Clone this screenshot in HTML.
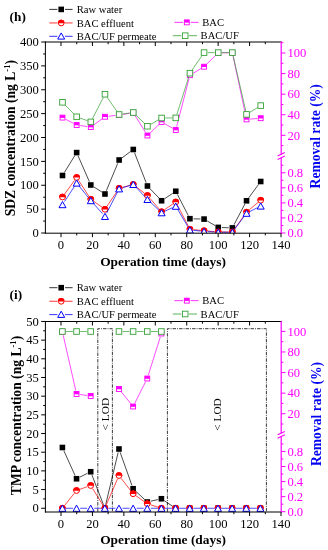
<!DOCTYPE html>
<html><head><meta charset="utf-8"><title>chart</title>
<style>html,body{margin:0;padding:0;background:#fff}svg{display:block}</style></head>
<body>
<svg width="328" height="550" viewBox="0 0 328 550">
<rect width="328" height="550" fill="#fff"/>
<clipPath id="cliph"><rect x="45.4" y="42.0" width="235.79999999999998" height="191.2"/></clipPath>
<g clip-path="url(#cliph)">
<line x1="64.39" y1="172.44" x2="74.76" y2="155.66" stroke="#000" stroke-width="0.7" />
<line x1="78.10" y1="155.90" x2="89.37" y2="181.70" stroke="#000" stroke-width="0.7" />
<line x1="93.85" y1="186.93" x2="101.93" y2="192.07" stroke="#000" stroke-width="0.7" />
<line x1="106.35" y1="190.68" x2="117.74" y2="163.32" stroke="#000" stroke-width="0.7" />
<line x1="122.02" y1="157.86" x2="130.39" y2="151.64" stroke="#000" stroke-width="0.7" />
<line x1="134.59" y1="152.86" x2="146.14" y2="182.64" stroke="#000" stroke-width="0.7" />
<line x1="149.93" y1="188.60" x2="159.11" y2="198.15" stroke="#000" stroke-width="0.7" />
<line x1="164.59" y1="198.74" x2="172.77" y2="193.26" stroke="#000" stroke-width="0.7" />
<line x1="177.41" y1="194.45" x2="188.26" y2="215.50" stroke="#000" stroke-width="0.7" />
<line x1="193.51" y1="218.80" x2="200.47" y2="219.00" stroke="#000" stroke-width="0.7" />
<line x1="207.18" y1="220.92" x2="215.12" y2="225.58" stroke="#000" stroke-width="0.7" />
<line x1="221.82" y1="227.53" x2="228.79" y2="227.77" stroke="#000" stroke-width="0.7" />
<line x1="234.05" y1="224.71" x2="244.87" y2="203.99" stroke="#000" stroke-width="0.7" />
<line x1="248.67" y1="197.90" x2="258.57" y2="184.40" stroke="#000" stroke-width="0.7" />
<rect x="59.70" y="172.70" width="5.6" height="5.6" fill="#000"/>
<rect x="73.86" y="149.80" width="5.6" height="5.6" fill="#000"/>
<rect x="88.01" y="182.20" width="5.6" height="5.6" fill="#000"/>
<rect x="102.17" y="191.20" width="5.6" height="5.6" fill="#000"/>
<rect x="116.33" y="157.20" width="5.6" height="5.6" fill="#000"/>
<rect x="130.48" y="146.70" width="5.6" height="5.6" fill="#000"/>
<rect x="144.64" y="183.20" width="5.6" height="5.6" fill="#000"/>
<rect x="158.80" y="197.95" width="5.6" height="5.6" fill="#000"/>
<rect x="172.96" y="188.45" width="5.6" height="5.6" fill="#000"/>
<rect x="187.11" y="215.90" width="5.6" height="5.6" fill="#000"/>
<rect x="201.27" y="216.30" width="5.6" height="5.6" fill="#000"/>
<rect x="215.43" y="224.60" width="5.6" height="5.6" fill="#000"/>
<rect x="229.58" y="225.10" width="5.6" height="5.6" fill="#000"/>
<rect x="243.74" y="198.00" width="5.6" height="5.6" fill="#000"/>
<rect x="257.90" y="178.70" width="5.6" height="5.6" fill="#000"/>
<line x1="64.61" y1="194.08" x2="74.55" y2="180.32" stroke="#ff0000" stroke-width="0.7" />
<line x1="78.61" y1="180.42" x2="88.86" y2="196.23" stroke="#ff0000" stroke-width="0.7" />
<line x1="93.75" y1="201.33" x2="102.03" y2="207.17" stroke="#ff0000" stroke-width="0.7" />
<line x1="106.99" y1="206.27" x2="117.11" y2="191.28" stroke="#ff0000" stroke-width="0.7" />
<line x1="122.60" y1="187.37" x2="129.81" y2="185.43" stroke="#ff0000" stroke-width="0.7" />
<line x1="136.13" y1="186.71" x2="144.60" y2="193.29" stroke="#ff0000" stroke-width="0.7" />
<line x1="149.81" y1="198.21" x2="159.23" y2="209.04" stroke="#ff0000" stroke-width="0.7" />
<line x1="164.56" y1="209.71" x2="172.79" y2="204.04" stroke="#ff0000" stroke-width="0.7" />
<line x1="177.41" y1="205.20" x2="188.26" y2="226.10" stroke="#ff0000" stroke-width="0.7" />
<line x1="193.50" y1="229.65" x2="200.49" y2="230.35" stroke="#ff0000" stroke-width="0.7" />
<line x1="207.65" y1="231.03" x2="214.64" y2="231.67" stroke="#ff0000" stroke-width="0.7" />
<line x1="221.83" y1="232.00" x2="228.78" y2="232.00" stroke="#ff0000" stroke-width="0.7" />
<line x1="234.47" y1="229.07" x2="244.45" y2="215.03" stroke="#ff0000" stroke-width="0.7" />
<line x1="249.30" y1="209.78" x2="257.94" y2="202.52" stroke="#ff0000" stroke-width="0.7" />
<circle cx="62.50" cy="197.00" r="2.9" fill="#fff" stroke="#ff0000" stroke-width="1.0"/>
<path d="M59.10 197.20 A3.4 3.4 0 0 1 65.90 197.20 Z" fill="#ff0000"/>
<circle cx="76.66" cy="177.40" r="2.9" fill="#fff" stroke="#ff0000" stroke-width="1.0"/>
<path d="M73.26 177.60 A3.4 3.4 0 0 1 80.06 177.60 Z" fill="#ff0000"/>
<circle cx="90.81" cy="199.25" r="2.9" fill="#fff" stroke="#ff0000" stroke-width="1.0"/>
<path d="M87.41 199.45 A3.4 3.4 0 0 1 94.21 199.45 Z" fill="#ff0000"/>
<circle cx="104.97" cy="209.25" r="2.9" fill="#fff" stroke="#ff0000" stroke-width="1.0"/>
<path d="M101.57 209.45 A3.4 3.4 0 0 1 108.37 209.45 Z" fill="#ff0000"/>
<circle cx="119.13" cy="188.30" r="2.9" fill="#fff" stroke="#ff0000" stroke-width="1.0"/>
<path d="M115.73 188.50 A3.4 3.4 0 0 1 122.53 188.50 Z" fill="#ff0000"/>
<circle cx="133.28" cy="184.50" r="2.9" fill="#fff" stroke="#ff0000" stroke-width="1.0"/>
<path d="M129.88 184.70 A3.4 3.4 0 0 1 136.69 184.70 Z" fill="#ff0000"/>
<circle cx="147.44" cy="195.50" r="2.9" fill="#fff" stroke="#ff0000" stroke-width="1.0"/>
<path d="M144.04 195.70 A3.4 3.4 0 0 1 150.84 195.70 Z" fill="#ff0000"/>
<circle cx="161.60" cy="211.75" r="2.9" fill="#fff" stroke="#ff0000" stroke-width="1.0"/>
<path d="M158.20 211.95 A3.4 3.4 0 0 1 165.00 211.95 Z" fill="#ff0000"/>
<circle cx="175.76" cy="202.00" r="2.9" fill="#fff" stroke="#ff0000" stroke-width="1.0"/>
<path d="M172.36 202.20 A3.4 3.4 0 0 1 179.16 202.20 Z" fill="#ff0000"/>
<circle cx="189.91" cy="229.30" r="2.9" fill="#fff" stroke="#ff0000" stroke-width="1.0"/>
<path d="M186.51 229.50 A3.4 3.4 0 0 1 193.31 229.50 Z" fill="#ff0000"/>
<circle cx="204.07" cy="230.70" r="2.9" fill="#fff" stroke="#ff0000" stroke-width="1.0"/>
<path d="M200.67 230.90 A3.4 3.4 0 0 1 207.47 230.90 Z" fill="#ff0000"/>
<circle cx="218.23" cy="232.00" r="2.9" fill="#fff" stroke="#ff0000" stroke-width="1.0"/>
<path d="M214.83 232.20 A3.4 3.4 0 0 1 221.63 232.20 Z" fill="#ff0000"/>
<circle cx="232.38" cy="232.00" r="2.9" fill="#fff" stroke="#ff0000" stroke-width="1.0"/>
<path d="M228.98 232.20 A3.4 3.4 0 0 1 235.78 232.20 Z" fill="#ff0000"/>
<circle cx="246.54" cy="212.10" r="2.9" fill="#fff" stroke="#ff0000" stroke-width="1.0"/>
<path d="M243.14 212.30 A3.4 3.4 0 0 1 249.94 212.30 Z" fill="#ff0000"/>
<circle cx="260.70" cy="200.20" r="2.9" fill="#fff" stroke="#ff0000" stroke-width="1.0"/>
<path d="M257.30 200.40 A3.4 3.4 0 0 1 264.10 200.40 Z" fill="#ff0000"/>
<line x1="64.47" y1="201.59" x2="74.68" y2="186.01" stroke="#0000ff" stroke-width="0.7" />
<line x1="78.91" y1="185.81" x2="88.56" y2="197.79" stroke="#0000ff" stroke-width="0.7" />
<line x1="93.22" y1="203.28" x2="102.57" y2="213.72" stroke="#0000ff" stroke-width="0.7" />
<line x1="106.61" y1="213.20" x2="117.48" y2="192.00" stroke="#0000ff" stroke-width="0.7" />
<line x1="122.57" y1="187.73" x2="129.85" y2="185.47" stroke="#0000ff" stroke-width="0.7" />
<line x1="135.76" y1="187.02" x2="144.97" y2="196.78" stroke="#0000ff" stroke-width="0.7" />
<line x1="150.07" y1="201.86" x2="158.98" y2="210.24" stroke="#0000ff" stroke-width="0.7" />
<line x1="164.87" y1="211.20" x2="172.48" y2="207.70" stroke="#0000ff" stroke-width="0.7" />
<line x1="177.60" y1="209.29" x2="188.07" y2="226.91" stroke="#0000ff" stroke-width="0.7" />
<line x1="193.50" y1="230.35" x2="200.49" y2="231.05" stroke="#0000ff" stroke-width="0.7" />
<line x1="207.66" y1="231.60" x2="214.63" y2="232.00" stroke="#0000ff" stroke-width="0.7" />
<line x1="221.83" y1="232.20" x2="228.78" y2="232.20" stroke="#0000ff" stroke-width="0.7" />
<line x1="234.53" y1="229.31" x2="244.39" y2="216.09" stroke="#0000ff" stroke-width="0.7" />
<line x1="249.75" y1="211.57" x2="257.49" y2="207.63" stroke="#0000ff" stroke-width="0.7" />
<path d="M62.50 201.50 L66.00 207.70 L59.00 207.70 Z" fill="#fff" stroke="#0000ff" stroke-width="1.0" stroke-linejoin="miter"/>
<path d="M76.66 179.90 L80.16 186.10 L73.16 186.10 Z" fill="#fff" stroke="#0000ff" stroke-width="1.0" stroke-linejoin="miter"/>
<path d="M90.81 197.50 L94.31 203.70 L87.31 203.70 Z" fill="#fff" stroke="#0000ff" stroke-width="1.0" stroke-linejoin="miter"/>
<path d="M104.97 213.30 L108.47 219.50 L101.47 219.50 Z" fill="#fff" stroke="#0000ff" stroke-width="1.0" stroke-linejoin="miter"/>
<path d="M119.13 185.70 L122.63 191.90 L115.63 191.90 Z" fill="#fff" stroke="#0000ff" stroke-width="1.0" stroke-linejoin="miter"/>
<path d="M133.28 181.30 L136.78 187.50 L129.78 187.50 Z" fill="#fff" stroke="#0000ff" stroke-width="1.0" stroke-linejoin="miter"/>
<path d="M147.44 196.30 L150.94 202.50 L143.94 202.50 Z" fill="#fff" stroke="#0000ff" stroke-width="1.0" stroke-linejoin="miter"/>
<path d="M161.60 209.60 L165.10 215.80 L158.10 215.80 Z" fill="#fff" stroke="#0000ff" stroke-width="1.0" stroke-linejoin="miter"/>
<path d="M175.76 203.10 L179.26 209.30 L172.26 209.30 Z" fill="#fff" stroke="#0000ff" stroke-width="1.0" stroke-linejoin="miter"/>
<path d="M189.91 226.90 L193.41 233.10 L186.41 233.10 Z" fill="#fff" stroke="#0000ff" stroke-width="1.0" stroke-linejoin="miter"/>
<path d="M204.07 228.30 L207.57 234.50 L200.57 234.50 Z" fill="#fff" stroke="#0000ff" stroke-width="1.0" stroke-linejoin="miter"/>
<path d="M218.23 229.10 L221.73 235.30 L214.73 235.30 Z" fill="#fff" stroke="#0000ff" stroke-width="1.0" stroke-linejoin="miter"/>
<path d="M232.38 229.10 L235.88 235.30 L228.88 235.30 Z" fill="#fff" stroke="#0000ff" stroke-width="1.0" stroke-linejoin="miter"/>
<path d="M246.54 210.10 L250.04 216.30 L243.04 216.30 Z" fill="#fff" stroke="#0000ff" stroke-width="1.0" stroke-linejoin="miter"/>
<path d="M260.70 202.90 L264.20 209.10 L257.20 209.10 Z" fill="#fff" stroke="#0000ff" stroke-width="1.0" stroke-linejoin="miter"/>
<line x1="65.69" y1="119.27" x2="73.47" y2="123.33" stroke="#ff00ff" stroke-width="0.7" />
<line x1="80.22" y1="125.53" x2="87.25" y2="126.57" stroke="#ff00ff" stroke-width="0.7" />
<line x1="93.72" y1="124.98" x2="102.06" y2="118.87" stroke="#ff00ff" stroke-width="0.7" />
<line x1="108.54" y1="116.31" x2="115.56" y2="115.44" stroke="#ff00ff" stroke-width="0.7" />
<line x1="122.68" y1="114.42" x2="129.73" y2="113.28" stroke="#ff00ff" stroke-width="0.7" />
<line x1="135.18" y1="115.76" x2="145.54" y2="132.44" stroke="#ff00ff" stroke-width="0.7" />
<line x1="150.05" y1="133.02" x2="158.99" y2="124.48" stroke="#ff00ff" stroke-width="0.7" />
<line x1="164.73" y1="123.77" x2="172.62" y2="128.23" stroke="#ff00ff" stroke-width="0.7" />
<line x1="176.66" y1="126.51" x2="189.01" y2="78.69" stroke="#ff00ff" stroke-width="0.7" />
<line x1="193.00" y1="73.35" x2="200.98" y2="68.55" stroke="#ff00ff" stroke-width="0.7" />
<line x1="206.64" y1="64.18" x2="215.66" y2="55.32" stroke="#ff00ff" stroke-width="0.7" />
<line x1="221.83" y1="52.80" x2="228.78" y2="52.80" stroke="#ff00ff" stroke-width="0.7" />
<line x1="233.13" y1="56.32" x2="245.79" y2="115.88" stroke="#ff00ff" stroke-width="0.7" />
<line x1="250.13" y1="119.10" x2="257.11" y2="118.50" stroke="#ff00ff" stroke-width="0.7" />
<rect x="60.05" y="115.15" width="4.9" height="4.9" fill="#fff" stroke="#ff00ff" stroke-width="0.9"/>
<rect x="60.05" y="115.15" width="4.9" height="2.75" fill="#ff00ff"/>
<rect x="74.21" y="122.55" width="4.9" height="4.9" fill="#fff" stroke="#ff00ff" stroke-width="0.9"/>
<rect x="74.21" y="122.55" width="4.9" height="2.75" fill="#ff00ff"/>
<rect x="88.36" y="124.65" width="4.9" height="4.9" fill="#fff" stroke="#ff00ff" stroke-width="0.9"/>
<rect x="88.36" y="124.65" width="4.9" height="2.75" fill="#ff00ff"/>
<rect x="102.52" y="114.30" width="4.9" height="4.9" fill="#fff" stroke="#ff00ff" stroke-width="0.9"/>
<rect x="102.52" y="114.30" width="4.9" height="2.75" fill="#ff00ff"/>
<rect x="116.68" y="112.55" width="4.9" height="4.9" fill="#fff" stroke="#ff00ff" stroke-width="0.9"/>
<rect x="116.68" y="112.55" width="4.9" height="2.75" fill="#ff00ff"/>
<rect x="130.84" y="110.25" width="4.9" height="4.9" fill="#fff" stroke="#ff00ff" stroke-width="0.9"/>
<rect x="130.84" y="110.25" width="4.9" height="2.75" fill="#ff00ff"/>
<rect x="144.99" y="133.05" width="4.9" height="4.9" fill="#fff" stroke="#ff00ff" stroke-width="0.9"/>
<rect x="144.99" y="133.05" width="4.9" height="2.75" fill="#ff00ff"/>
<rect x="159.15" y="119.55" width="4.9" height="4.9" fill="#fff" stroke="#ff00ff" stroke-width="0.9"/>
<rect x="159.15" y="119.55" width="4.9" height="2.75" fill="#ff00ff"/>
<rect x="173.31" y="127.55" width="4.9" height="4.9" fill="#fff" stroke="#ff00ff" stroke-width="0.9"/>
<rect x="173.31" y="127.55" width="4.9" height="2.75" fill="#ff00ff"/>
<rect x="187.46" y="72.75" width="4.9" height="4.9" fill="#fff" stroke="#ff00ff" stroke-width="0.9"/>
<rect x="187.46" y="72.75" width="4.9" height="2.75" fill="#ff00ff"/>
<rect x="201.62" y="64.25" width="4.9" height="4.9" fill="#fff" stroke="#ff00ff" stroke-width="0.9"/>
<rect x="201.62" y="64.25" width="4.9" height="2.75" fill="#ff00ff"/>
<rect x="215.78" y="50.35" width="4.9" height="4.9" fill="#fff" stroke="#ff00ff" stroke-width="0.9"/>
<rect x="215.78" y="50.35" width="4.9" height="2.75" fill="#ff00ff"/>
<rect x="229.93" y="50.35" width="4.9" height="4.9" fill="#fff" stroke="#ff00ff" stroke-width="0.9"/>
<rect x="229.93" y="50.35" width="4.9" height="2.75" fill="#ff00ff"/>
<rect x="244.09" y="116.95" width="4.9" height="4.9" fill="#fff" stroke="#ff00ff" stroke-width="0.9"/>
<rect x="244.09" y="116.95" width="4.9" height="2.75" fill="#ff00ff"/>
<rect x="258.25" y="115.75" width="4.9" height="4.9" fill="#fff" stroke="#ff00ff" stroke-width="0.9"/>
<rect x="258.25" y="115.75" width="4.9" height="2.75" fill="#ff00ff"/>
<line x1="65.01" y1="104.88" x2="74.14" y2="114.22" stroke="#33a033" stroke-width="0.7" />
<line x1="80.04" y1="118.02" x2="87.43" y2="120.68" stroke="#33a033" stroke-width="0.7" />
<line x1="92.45" y1="118.70" x2="103.33" y2="97.45" stroke="#33a033" stroke-width="0.7" />
<line x1="107.03" y1="97.20" x2="117.07" y2="111.55" stroke="#33a033" stroke-width="0.7" />
<line x1="122.69" y1="114.00" x2="129.72" y2="113.00" stroke="#33a033" stroke-width="0.7" />
<line x1="135.87" y1="115.01" x2="144.86" y2="123.74" stroke="#33a033" stroke-width="0.7" />
<line x1="150.55" y1="124.44" x2="158.49" y2="119.81" stroke="#33a033" stroke-width="0.7" />
<line x1="165.20" y1="117.97" x2="172.16" y2="117.93" stroke="#33a033" stroke-width="0.7" />
<line x1="176.84" y1="114.47" x2="188.83" y2="76.63" stroke="#33a033" stroke-width="0.7" />
<line x1="191.95" y1="70.23" x2="202.03" y2="55.57" stroke="#33a033" stroke-width="0.7" />
<line x1="207.67" y1="52.60" x2="214.63" y2="52.60" stroke="#33a033" stroke-width="0.7" />
<line x1="221.83" y1="52.60" x2="228.78" y2="52.60" stroke="#33a033" stroke-width="0.7" />
<line x1="233.19" y1="56.11" x2="245.74" y2="110.89" stroke="#33a033" stroke-width="0.7" />
<line x1="249.60" y1="112.50" x2="257.64" y2="107.50" stroke="#33a033" stroke-width="0.7" />
<rect x="59.70" y="99.50" width="5.6" height="5.6" fill="#fff" stroke="#33a033" stroke-width="0.9"/>
<rect x="73.86" y="114.00" width="5.6" height="5.6" fill="#fff" stroke="#33a033" stroke-width="0.9"/>
<rect x="88.01" y="119.10" width="5.6" height="5.6" fill="#fff" stroke="#33a033" stroke-width="0.9"/>
<rect x="102.17" y="91.45" width="5.6" height="5.6" fill="#fff" stroke="#33a033" stroke-width="0.9"/>
<rect x="116.33" y="111.70" width="5.6" height="5.6" fill="#fff" stroke="#33a033" stroke-width="0.9"/>
<rect x="130.48" y="109.70" width="5.6" height="5.6" fill="#fff" stroke="#33a033" stroke-width="0.9"/>
<rect x="144.64" y="123.45" width="5.6" height="5.6" fill="#fff" stroke="#33a033" stroke-width="0.9"/>
<rect x="158.80" y="115.20" width="5.6" height="5.6" fill="#fff" stroke="#33a033" stroke-width="0.9"/>
<rect x="172.96" y="115.10" width="5.6" height="5.6" fill="#fff" stroke="#33a033" stroke-width="0.9"/>
<rect x="187.11" y="70.40" width="5.6" height="5.6" fill="#fff" stroke="#33a033" stroke-width="0.9"/>
<rect x="201.27" y="49.80" width="5.6" height="5.6" fill="#fff" stroke="#33a033" stroke-width="0.9"/>
<rect x="215.43" y="49.80" width="5.6" height="5.6" fill="#fff" stroke="#33a033" stroke-width="0.9"/>
<rect x="229.58" y="49.80" width="5.6" height="5.6" fill="#fff" stroke="#33a033" stroke-width="0.9"/>
<rect x="243.74" y="111.60" width="5.6" height="5.6" fill="#fff" stroke="#33a033" stroke-width="0.9"/>
<rect x="257.90" y="102.80" width="5.6" height="5.6" fill="#fff" stroke="#33a033" stroke-width="0.9"/>
</g>
<line x1="45.40" y1="41.50" x2="45.40" y2="233.70" stroke="#000" stroke-width="1.0" />
<line x1="44.90" y1="42.00" x2="281.70" y2="42.00" stroke="#000" stroke-width="1.0" />
<line x1="44.90" y1="233.20" x2="281.70" y2="233.20" stroke="#000" stroke-width="1.0" />
<line x1="281.20" y1="41.50" x2="281.20" y2="154.60" stroke="#ff00ff" stroke-width="1.2" />
<line x1="281.20" y1="157.60" x2="281.20" y2="233.70" stroke="#ff00ff" stroke-width="1.2" />
<line x1="277.60" y1="156.00" x2="284.80" y2="152.60" stroke="#ff00ff" stroke-width="1.1" />
<line x1="277.60" y1="159.40" x2="284.80" y2="156.00" stroke="#ff00ff" stroke-width="1.1" />
<line x1="61.00" y1="233.20" x2="61.00" y2="237.20" stroke="#000" stroke-width="1.0" />
<line x1="61.00" y1="42.00" x2="61.00" y2="46.00" stroke="#000" stroke-width="1.0" />
<text x="61.00" y="249.00" font-size="12.6" text-anchor="middle" font-weight="normal" fill="#000" font-family="Liberation Serif, serif" >0</text>
<line x1="76.72" y1="233.20" x2="76.72" y2="235.40" stroke="#000" stroke-width="1.0" />
<line x1="76.72" y1="42.00" x2="76.72" y2="44.20" stroke="#000" stroke-width="1.0" />
<line x1="92.43" y1="233.20" x2="92.43" y2="237.20" stroke="#000" stroke-width="1.0" />
<line x1="92.43" y1="42.00" x2="92.43" y2="46.00" stroke="#000" stroke-width="1.0" />
<text x="92.43" y="249.00" font-size="12.6" text-anchor="middle" font-weight="normal" fill="#000" font-family="Liberation Serif, serif" >20</text>
<line x1="108.14" y1="233.20" x2="108.14" y2="235.40" stroke="#000" stroke-width="1.0" />
<line x1="108.14" y1="42.00" x2="108.14" y2="44.20" stroke="#000" stroke-width="1.0" />
<line x1="123.86" y1="233.20" x2="123.86" y2="237.20" stroke="#000" stroke-width="1.0" />
<line x1="123.86" y1="42.00" x2="123.86" y2="46.00" stroke="#000" stroke-width="1.0" />
<text x="123.86" y="249.00" font-size="12.6" text-anchor="middle" font-weight="normal" fill="#000" font-family="Liberation Serif, serif" >40</text>
<line x1="139.57" y1="233.20" x2="139.57" y2="235.40" stroke="#000" stroke-width="1.0" />
<line x1="139.57" y1="42.00" x2="139.57" y2="44.20" stroke="#000" stroke-width="1.0" />
<line x1="155.29" y1="233.20" x2="155.29" y2="237.20" stroke="#000" stroke-width="1.0" />
<line x1="155.29" y1="42.00" x2="155.29" y2="46.00" stroke="#000" stroke-width="1.0" />
<text x="155.29" y="249.00" font-size="12.6" text-anchor="middle" font-weight="normal" fill="#000" font-family="Liberation Serif, serif" >60</text>
<line x1="171.00" y1="233.20" x2="171.00" y2="235.40" stroke="#000" stroke-width="1.0" />
<line x1="171.00" y1="42.00" x2="171.00" y2="44.20" stroke="#000" stroke-width="1.0" />
<line x1="186.72" y1="233.20" x2="186.72" y2="237.20" stroke="#000" stroke-width="1.0" />
<line x1="186.72" y1="42.00" x2="186.72" y2="46.00" stroke="#000" stroke-width="1.0" />
<text x="186.72" y="249.00" font-size="12.6" text-anchor="middle" font-weight="normal" fill="#000" font-family="Liberation Serif, serif" >80</text>
<line x1="202.44" y1="233.20" x2="202.44" y2="235.40" stroke="#000" stroke-width="1.0" />
<line x1="202.44" y1="42.00" x2="202.44" y2="44.20" stroke="#000" stroke-width="1.0" />
<line x1="218.15" y1="233.20" x2="218.15" y2="237.20" stroke="#000" stroke-width="1.0" />
<line x1="218.15" y1="42.00" x2="218.15" y2="46.00" stroke="#000" stroke-width="1.0" />
<text x="218.15" y="249.00" font-size="12.6" text-anchor="middle" font-weight="normal" fill="#000" font-family="Liberation Serif, serif" >100</text>
<line x1="233.86" y1="233.20" x2="233.86" y2="235.40" stroke="#000" stroke-width="1.0" />
<line x1="233.86" y1="42.00" x2="233.86" y2="44.20" stroke="#000" stroke-width="1.0" />
<line x1="249.58" y1="233.20" x2="249.58" y2="237.20" stroke="#000" stroke-width="1.0" />
<line x1="249.58" y1="42.00" x2="249.58" y2="46.00" stroke="#000" stroke-width="1.0" />
<text x="249.58" y="249.00" font-size="12.6" text-anchor="middle" font-weight="normal" fill="#000" font-family="Liberation Serif, serif" >120</text>
<line x1="265.29" y1="233.20" x2="265.29" y2="235.40" stroke="#000" stroke-width="1.0" />
<line x1="265.29" y1="42.00" x2="265.29" y2="44.20" stroke="#000" stroke-width="1.0" />
<line x1="281.01" y1="233.20" x2="281.01" y2="237.20" stroke="#000" stroke-width="1.0" />
<text x="281.01" y="249.00" font-size="12.6" text-anchor="middle" font-weight="normal" fill="#000" font-family="Liberation Serif, serif" >140</text>
<text x="163.00" y="265.50" font-size="13.4" text-anchor="middle" font-weight="bold" fill="#000" font-family="Liberation Serif, serif" >Operation time (days)</text>
<line x1="41.20" y1="233.00" x2="45.40" y2="233.00" stroke="#000" stroke-width="1.0" />
<text x="38.80" y="237.20" font-size="12.6" text-anchor="end" font-weight="normal" fill="#000" font-family="Liberation Serif, serif" >0</text>
<line x1="43.20" y1="221.06" x2="45.40" y2="221.06" stroke="#000" stroke-width="1.0" />
<line x1="41.20" y1="209.12" x2="45.40" y2="209.12" stroke="#000" stroke-width="1.0" />
<text x="38.80" y="213.32" font-size="12.6" text-anchor="end" font-weight="normal" fill="#000" font-family="Liberation Serif, serif" >50</text>
<line x1="43.20" y1="197.19" x2="45.40" y2="197.19" stroke="#000" stroke-width="1.0" />
<line x1="41.20" y1="185.25" x2="45.40" y2="185.25" stroke="#000" stroke-width="1.0" />
<text x="38.80" y="189.45" font-size="12.6" text-anchor="end" font-weight="normal" fill="#000" font-family="Liberation Serif, serif" >100</text>
<line x1="43.20" y1="173.31" x2="45.40" y2="173.31" stroke="#000" stroke-width="1.0" />
<line x1="41.20" y1="161.38" x2="45.40" y2="161.38" stroke="#000" stroke-width="1.0" />
<text x="38.80" y="165.57" font-size="12.6" text-anchor="end" font-weight="normal" fill="#000" font-family="Liberation Serif, serif" >150</text>
<line x1="43.20" y1="149.44" x2="45.40" y2="149.44" stroke="#000" stroke-width="1.0" />
<line x1="41.20" y1="137.50" x2="45.40" y2="137.50" stroke="#000" stroke-width="1.0" />
<text x="38.80" y="141.70" font-size="12.6" text-anchor="end" font-weight="normal" fill="#000" font-family="Liberation Serif, serif" >200</text>
<line x1="43.20" y1="125.56" x2="45.40" y2="125.56" stroke="#000" stroke-width="1.0" />
<line x1="41.20" y1="113.62" x2="45.40" y2="113.62" stroke="#000" stroke-width="1.0" />
<text x="38.80" y="117.83" font-size="12.6" text-anchor="end" font-weight="normal" fill="#000" font-family="Liberation Serif, serif" >250</text>
<line x1="43.20" y1="101.69" x2="45.40" y2="101.69" stroke="#000" stroke-width="1.0" />
<line x1="41.20" y1="89.75" x2="45.40" y2="89.75" stroke="#000" stroke-width="1.0" />
<text x="38.80" y="93.95" font-size="12.6" text-anchor="end" font-weight="normal" fill="#000" font-family="Liberation Serif, serif" >300</text>
<line x1="43.20" y1="77.81" x2="45.40" y2="77.81" stroke="#000" stroke-width="1.0" />
<line x1="41.20" y1="65.88" x2="45.40" y2="65.88" stroke="#000" stroke-width="1.0" />
<text x="38.80" y="70.08" font-size="12.6" text-anchor="end" font-weight="normal" fill="#000" font-family="Liberation Serif, serif" >350</text>
<line x1="43.20" y1="53.94" x2="45.40" y2="53.94" stroke="#000" stroke-width="1.0" />
<line x1="41.20" y1="42.00" x2="45.40" y2="42.00" stroke="#000" stroke-width="1.0" />
<text x="38.80" y="46.20" font-size="12.6" text-anchor="end" font-weight="normal" fill="#000" font-family="Liberation Serif, serif" >400</text>
<line x1="281.20" y1="233.00" x2="285.40" y2="233.00" stroke="#ff00ff" stroke-width="1.0" />
<text x="287.40" y="237.20" font-size="12.6" text-anchor="start" font-weight="normal" fill="#ff00ff" font-family="Liberation Serif, serif" >0.0</text>
<line x1="281.20" y1="225.47" x2="283.40" y2="225.47" stroke="#ff00ff" stroke-width="1.0" />
<line x1="281.20" y1="217.94" x2="285.40" y2="217.94" stroke="#ff00ff" stroke-width="1.0" />
<text x="287.40" y="222.14" font-size="12.6" text-anchor="start" font-weight="normal" fill="#ff00ff" font-family="Liberation Serif, serif" >0.2</text>
<line x1="281.20" y1="210.41" x2="283.40" y2="210.41" stroke="#ff00ff" stroke-width="1.0" />
<line x1="281.20" y1="202.88" x2="285.40" y2="202.88" stroke="#ff00ff" stroke-width="1.0" />
<text x="287.40" y="207.08" font-size="12.6" text-anchor="start" font-weight="normal" fill="#ff00ff" font-family="Liberation Serif, serif" >0.4</text>
<line x1="281.20" y1="195.35" x2="283.40" y2="195.35" stroke="#ff00ff" stroke-width="1.0" />
<line x1="281.20" y1="187.82" x2="285.40" y2="187.82" stroke="#ff00ff" stroke-width="1.0" />
<text x="287.40" y="192.02" font-size="12.6" text-anchor="start" font-weight="normal" fill="#ff00ff" font-family="Liberation Serif, serif" >0.6</text>
<line x1="281.20" y1="180.29" x2="283.40" y2="180.29" stroke="#ff00ff" stroke-width="1.0" />
<line x1="281.20" y1="172.76" x2="285.40" y2="172.76" stroke="#ff00ff" stroke-width="1.0" />
<text x="287.40" y="176.96" font-size="12.6" text-anchor="start" font-weight="normal" fill="#ff00ff" font-family="Liberation Serif, serif" >0.8</text>
<line x1="281.20" y1="165.23" x2="283.40" y2="165.23" stroke="#ff00ff" stroke-width="1.0" />
<line x1="281.20" y1="145.61" x2="283.40" y2="145.61" stroke="#ff00ff" stroke-width="1.0" />
<line x1="281.20" y1="135.32" x2="285.40" y2="135.32" stroke="#ff00ff" stroke-width="1.0" />
<text x="287.40" y="139.52" font-size="12.6" text-anchor="start" font-weight="normal" fill="#ff00ff" font-family="Liberation Serif, serif" >20</text>
<line x1="281.20" y1="125.03" x2="283.40" y2="125.03" stroke="#ff00ff" stroke-width="1.0" />
<line x1="281.20" y1="114.74" x2="285.40" y2="114.74" stroke="#ff00ff" stroke-width="1.0" />
<text x="287.40" y="118.94" font-size="12.6" text-anchor="start" font-weight="normal" fill="#ff00ff" font-family="Liberation Serif, serif" >40</text>
<line x1="281.20" y1="104.45" x2="283.40" y2="104.45" stroke="#ff00ff" stroke-width="1.0" />
<line x1="281.20" y1="94.16" x2="285.40" y2="94.16" stroke="#ff00ff" stroke-width="1.0" />
<text x="287.40" y="98.36" font-size="12.6" text-anchor="start" font-weight="normal" fill="#ff00ff" font-family="Liberation Serif, serif" >60</text>
<line x1="281.20" y1="83.87" x2="283.40" y2="83.87" stroke="#ff00ff" stroke-width="1.0" />
<line x1="281.20" y1="73.58" x2="285.40" y2="73.58" stroke="#ff00ff" stroke-width="1.0" />
<text x="287.40" y="77.78" font-size="12.6" text-anchor="start" font-weight="normal" fill="#ff00ff" font-family="Liberation Serif, serif" >80</text>
<line x1="281.20" y1="63.29" x2="283.40" y2="63.29" stroke="#ff00ff" stroke-width="1.0" />
<line x1="281.20" y1="53.00" x2="285.40" y2="53.00" stroke="#ff00ff" stroke-width="1.0" />
<text x="287.40" y="57.20" font-size="12.6" text-anchor="start" font-weight="normal" fill="#ff00ff" font-family="Liberation Serif, serif" >100</text>
<line x1="281.20" y1="42.71" x2="283.40" y2="42.71" stroke="#ff00ff" stroke-width="1.0" />
<text transform="translate(14.70,138.20) rotate(-90)" font-size="13.6" text-anchor="middle" font-weight="bold" fill="#000" font-family="Liberation Serif, serif">SDZ concentration (ng L<tspan font-size="8.6" dy="-5">-1</tspan><tspan dy="5">)</tspan></text>
<text transform="translate(320.00,136.30) rotate(-90)" font-size="13.6" text-anchor="middle" font-weight="bold" fill="#0404f2" font-family="Liberation Serif, serif">Removal rate (%)</text>
<text x="9.60" y="21.00" font-size="13.3" text-anchor="start" font-weight="bold" fill="#000" font-family="Liberation Serif, serif" >(h)</text>
<line x1="49.30" y1="9.40" x2="57.40" y2="9.40" stroke="#000" stroke-width="0.8" />
<line x1="65.00" y1="9.40" x2="72.60" y2="9.40" stroke="#000" stroke-width="0.8" />
<rect x="58.40" y="6.60" width="5.6" height="5.6" fill="#000"/>
<text x="76.70" y="13.00" font-size="10.6" text-anchor="start" font-weight="normal" fill="#000" font-family="Liberation Serif, serif" >Raw water</text>
<line x1="49.30" y1="22.95" x2="57.40" y2="22.95" stroke="#ff0000" stroke-width="0.8" />
<line x1="65.00" y1="22.95" x2="72.60" y2="22.95" stroke="#ff0000" stroke-width="0.8" />
<circle cx="61.20" cy="22.95" r="2.9" fill="#fff" stroke="#ff0000" stroke-width="1.0"/>
<path d="M57.80 23.15 A3.4 3.4 0 0 1 64.60 23.15 Z" fill="#ff0000"/>
<text x="76.70" y="26.55" font-size="10.6" text-anchor="start" font-weight="normal" fill="#000" font-family="Liberation Serif, serif" >BAC effluent</text>
<line x1="49.30" y1="36.30" x2="57.40" y2="36.30" stroke="#0000ff" stroke-width="0.8" />
<line x1="65.00" y1="36.30" x2="72.60" y2="36.30" stroke="#0000ff" stroke-width="0.8" />
<path d="M61.20 32.90 L64.70 39.10 L57.70 39.10 Z" fill="#fff" stroke="#0000ff" stroke-width="1.0" stroke-linejoin="miter"/>
<text x="76.70" y="39.90" font-size="10.6" text-anchor="start" font-weight="normal" fill="#000" font-family="Liberation Serif, serif" >BAC/UF permeate</text>
<line x1="174.40" y1="22.35" x2="183.00" y2="22.35" stroke="#ff00ff" stroke-width="0.8" />
<line x1="190.60" y1="22.35" x2="198.60" y2="22.35" stroke="#ff00ff" stroke-width="0.8" />
<rect x="184.35" y="19.90" width="4.9" height="4.9" fill="#fff" stroke="#ff00ff" stroke-width="0.9"/>
<rect x="184.35" y="19.90" width="4.9" height="2.75" fill="#ff00ff"/>
<text x="202.20" y="25.95" font-size="10.6" text-anchor="start" font-weight="normal" fill="#000" font-family="Liberation Serif, serif" >BAC</text>
<line x1="172.80" y1="35.70" x2="181.40" y2="35.70" stroke="#33a033" stroke-width="0.8" />
<line x1="189.00" y1="35.70" x2="197.00" y2="35.70" stroke="#33a033" stroke-width="0.8" />
<rect x="182.40" y="32.90" width="5.6" height="5.6" fill="#fff" stroke="#33a033" stroke-width="0.9"/>
<text x="200.60" y="39.30" font-size="10.6" text-anchor="start" font-weight="normal" fill="#000" font-family="Liberation Serif, serif" >BAC/UF</text>
<path d="M97.8 512.0 L97.8 328.7 L112.4 328.7 L112.4 512.0" fill="none" stroke="#222" stroke-width="0.9" stroke-dasharray="3.4 1.1 0.9 1.1"/>
<path d="M167.4 512.0 L167.4 328.7 L266.4 328.7 L266.4 512.0" fill="none" stroke="#222" stroke-width="0.9" stroke-dasharray="3.4 1.1 0.9 1.1"/>
<clipPath id="clipi"><rect x="45.4" y="321.5" width="235.79999999999998" height="190.5"/></clipPath>
<g clip-path="url(#clipi)">
<line x1="63.88" y1="450.78" x2="75.06" y2="475.47" stroke="#000" stroke-width="0.7" />
<line x1="79.77" y1="477.15" x2="87.46" y2="473.35" stroke="#000" stroke-width="0.7" />
<line x1="91.99" y1="475.11" x2="103.53" y2="504.89" stroke="#000" stroke-width="0.7" />
<line x1="105.66" y1="504.75" x2="118.14" y2="452.50" stroke="#000" stroke-width="0.7" />
<line x1="120.18" y1="452.39" x2="131.91" y2="485.36" stroke="#000" stroke-width="0.7" />
<line x1="135.74" y1="491.21" x2="144.63" y2="499.54" stroke="#000" stroke-width="0.7" />
<line x1="150.77" y1="501.19" x2="157.89" y2="499.56" stroke="#000" stroke-width="0.7" />
<line x1="164.39" y1="500.76" x2="172.56" y2="506.24" stroke="#000" stroke-width="0.7" />
<rect x="59.60" y="444.70" width="5.6" height="5.6" fill="#000"/>
<rect x="73.74" y="475.95" width="5.6" height="5.6" fill="#000"/>
<rect x="87.89" y="468.95" width="5.6" height="5.6" fill="#000"/>
<rect x="102.03" y="505.45" width="5.6" height="5.6" fill="#000"/>
<rect x="116.17" y="446.20" width="5.6" height="5.6" fill="#000"/>
<rect x="130.31" y="485.95" width="5.6" height="5.6" fill="#000"/>
<rect x="144.46" y="499.20" width="5.6" height="5.6" fill="#000"/>
<rect x="158.60" y="495.95" width="5.6" height="5.6" fill="#000"/>
<rect x="172.74" y="505.45" width="5.6" height="5.6" fill="#000"/>
<rect x="186.89" y="505.45" width="5.6" height="5.6" fill="#000"/>
<rect x="201.03" y="505.45" width="5.6" height="5.6" fill="#000"/>
<rect x="215.17" y="505.45" width="5.6" height="5.6" fill="#000"/>
<rect x="229.32" y="505.45" width="5.6" height="5.6" fill="#000"/>
<rect x="243.46" y="505.45" width="5.6" height="5.6" fill="#000"/>
<rect x="257.60" y="505.45" width="5.6" height="5.6" fill="#000"/>
<line x1="64.64" y1="505.43" x2="74.30" y2="493.32" stroke="#ff0000" stroke-width="0.7" />
<line x1="79.94" y1="489.30" x2="87.29" y2="486.70" stroke="#ff0000" stroke-width="0.7" />
<line x1="92.59" y1="488.56" x2="102.93" y2="505.19" stroke="#ff0000" stroke-width="0.7" />
<line x1="106.26" y1="504.95" x2="117.54" y2="478.80" stroke="#ff0000" stroke-width="0.7" />
<line x1="121.18" y1="478.35" x2="130.91" y2="490.90" stroke="#ff0000" stroke-width="0.7" />
<line x1="136.05" y1="495.83" x2="144.32" y2="501.67" stroke="#ff0000" stroke-width="0.7" />
<line x1="150.69" y1="504.84" x2="157.97" y2="507.16" stroke="#ff0000" stroke-width="0.7" />
<circle cx="62.40" cy="508.25" r="2.9" fill="#fff" stroke="#ff0000" stroke-width="1.0"/>
<path d="M59.00 508.45 A3.4 3.4 0 0 1 65.80 508.45 Z" fill="#ff0000"/>
<circle cx="76.54" cy="490.50" r="2.9" fill="#fff" stroke="#ff0000" stroke-width="1.0"/>
<path d="M73.14 490.70 A3.4 3.4 0 0 1 79.94 490.70 Z" fill="#ff0000"/>
<circle cx="90.69" cy="485.50" r="2.9" fill="#fff" stroke="#ff0000" stroke-width="1.0"/>
<path d="M87.29 485.70 A3.4 3.4 0 0 1 94.09 485.70 Z" fill="#ff0000"/>
<circle cx="104.83" cy="508.25" r="2.9" fill="#fff" stroke="#ff0000" stroke-width="1.0"/>
<path d="M101.43 508.45 A3.4 3.4 0 0 1 108.23 508.45 Z" fill="#ff0000"/>
<circle cx="118.97" cy="475.50" r="2.9" fill="#fff" stroke="#ff0000" stroke-width="1.0"/>
<path d="M115.57 475.70 A3.4 3.4 0 0 1 122.37 475.70 Z" fill="#ff0000"/>
<circle cx="133.12" cy="493.75" r="2.9" fill="#fff" stroke="#ff0000" stroke-width="1.0"/>
<path d="M129.72 493.95 A3.4 3.4 0 0 1 136.52 493.95 Z" fill="#ff0000"/>
<circle cx="147.26" cy="503.75" r="2.9" fill="#fff" stroke="#ff0000" stroke-width="1.0"/>
<path d="M143.86 503.95 A3.4 3.4 0 0 1 150.66 503.95 Z" fill="#ff0000"/>
<circle cx="161.40" cy="508.25" r="2.9" fill="#fff" stroke="#ff0000" stroke-width="1.0"/>
<path d="M158.00 508.45 A3.4 3.4 0 0 1 164.80 508.45 Z" fill="#ff0000"/>
<circle cx="175.54" cy="508.25" r="2.9" fill="#fff" stroke="#ff0000" stroke-width="1.0"/>
<path d="M172.14 508.45 A3.4 3.4 0 0 1 178.94 508.45 Z" fill="#ff0000"/>
<circle cx="189.69" cy="508.25" r="2.9" fill="#fff" stroke="#ff0000" stroke-width="1.0"/>
<path d="M186.29 508.45 A3.4 3.4 0 0 1 193.09 508.45 Z" fill="#ff0000"/>
<circle cx="203.83" cy="508.25" r="2.9" fill="#fff" stroke="#ff0000" stroke-width="1.0"/>
<path d="M200.43 508.45 A3.4 3.4 0 0 1 207.23 508.45 Z" fill="#ff0000"/>
<circle cx="217.97" cy="508.25" r="2.9" fill="#fff" stroke="#ff0000" stroke-width="1.0"/>
<path d="M214.57 508.45 A3.4 3.4 0 0 1 221.37 508.45 Z" fill="#ff0000"/>
<circle cx="232.12" cy="508.25" r="2.9" fill="#fff" stroke="#ff0000" stroke-width="1.0"/>
<path d="M228.72 508.45 A3.4 3.4 0 0 1 235.52 508.45 Z" fill="#ff0000"/>
<circle cx="246.26" cy="508.25" r="2.9" fill="#fff" stroke="#ff0000" stroke-width="1.0"/>
<path d="M242.86 508.45 A3.4 3.4 0 0 1 249.66 508.45 Z" fill="#ff0000"/>
<circle cx="260.40" cy="508.25" r="2.9" fill="#fff" stroke="#ff0000" stroke-width="1.0"/>
<path d="M257.00 508.45 A3.4 3.4 0 0 1 263.80 508.45 Z" fill="#ff0000"/>
<line x1="66.00" y1="508.25" x2="72.94" y2="508.25" stroke="#0000ff" stroke-width="0.7" />
<line x1="80.14" y1="508.25" x2="87.09" y2="508.25" stroke="#0000ff" stroke-width="0.7" />
<line x1="94.29" y1="508.25" x2="101.23" y2="508.25" stroke="#0000ff" stroke-width="0.7" />
<line x1="108.43" y1="508.25" x2="115.37" y2="508.25" stroke="#0000ff" stroke-width="0.7" />
<line x1="122.57" y1="508.25" x2="129.52" y2="508.25" stroke="#0000ff" stroke-width="0.7" />
<line x1="136.72" y1="508.25" x2="143.66" y2="508.25" stroke="#0000ff" stroke-width="0.7" />
<line x1="150.86" y1="508.25" x2="157.80" y2="508.25" stroke="#0000ff" stroke-width="0.7" />
<line x1="165.00" y1="508.25" x2="171.94" y2="508.25" stroke="#0000ff" stroke-width="0.7" />
<line x1="179.14" y1="508.25" x2="186.09" y2="508.25" stroke="#0000ff" stroke-width="0.7" />
<line x1="193.29" y1="508.25" x2="200.23" y2="508.25" stroke="#0000ff" stroke-width="0.7" />
<line x1="207.43" y1="508.25" x2="214.37" y2="508.25" stroke="#0000ff" stroke-width="0.7" />
<line x1="221.57" y1="508.25" x2="228.52" y2="508.25" stroke="#0000ff" stroke-width="0.7" />
<line x1="235.72" y1="508.25" x2="242.66" y2="508.25" stroke="#0000ff" stroke-width="0.7" />
<line x1="249.86" y1="508.25" x2="256.80" y2="508.25" stroke="#0000ff" stroke-width="0.7" />
<path d="M62.40 505.15 L65.90 511.35 L58.90 511.35 Z" fill="#fff" stroke="#0000ff" stroke-width="1.0" stroke-linejoin="miter"/>
<path d="M76.54 505.15 L80.04 511.35 L73.04 511.35 Z" fill="#fff" stroke="#0000ff" stroke-width="1.0" stroke-linejoin="miter"/>
<path d="M90.69 505.15 L94.19 511.35 L87.19 511.35 Z" fill="#fff" stroke="#0000ff" stroke-width="1.0" stroke-linejoin="miter"/>
<path d="M104.83 505.15 L108.33 511.35 L101.33 511.35 Z" fill="#fff" stroke="#0000ff" stroke-width="1.0" stroke-linejoin="miter"/>
<path d="M118.97 505.15 L122.47 511.35 L115.47 511.35 Z" fill="#fff" stroke="#0000ff" stroke-width="1.0" stroke-linejoin="miter"/>
<path d="M133.12 505.15 L136.62 511.35 L129.62 511.35 Z" fill="#fff" stroke="#0000ff" stroke-width="1.0" stroke-linejoin="miter"/>
<path d="M147.26 505.15 L150.76 511.35 L143.76 511.35 Z" fill="#fff" stroke="#0000ff" stroke-width="1.0" stroke-linejoin="miter"/>
<path d="M161.40 505.15 L164.90 511.35 L157.90 511.35 Z" fill="#fff" stroke="#0000ff" stroke-width="1.0" stroke-linejoin="miter"/>
<path d="M175.54 505.15 L179.04 511.35 L172.04 511.35 Z" fill="#fff" stroke="#0000ff" stroke-width="1.0" stroke-linejoin="miter"/>
<path d="M189.69 505.15 L193.19 511.35 L186.19 511.35 Z" fill="#fff" stroke="#0000ff" stroke-width="1.0" stroke-linejoin="miter"/>
<path d="M203.83 505.15 L207.33 511.35 L200.33 511.35 Z" fill="#fff" stroke="#0000ff" stroke-width="1.0" stroke-linejoin="miter"/>
<path d="M217.97 505.15 L221.47 511.35 L214.47 511.35 Z" fill="#fff" stroke="#0000ff" stroke-width="1.0" stroke-linejoin="miter"/>
<path d="M232.12 505.15 L235.62 511.35 L228.62 511.35 Z" fill="#fff" stroke="#0000ff" stroke-width="1.0" stroke-linejoin="miter"/>
<path d="M246.26 505.15 L249.76 511.35 L242.76 511.35 Z" fill="#fff" stroke="#0000ff" stroke-width="1.0" stroke-linejoin="miter"/>
<path d="M260.40 505.15 L263.90 511.35 L256.90 511.35 Z" fill="#fff" stroke="#0000ff" stroke-width="1.0" stroke-linejoin="miter"/>
<line x1="63.20" y1="335.21" x2="75.75" y2="390.49" stroke="#ff00ff" stroke-width="0.7" />
<line x1="80.11" y1="394.50" x2="87.12" y2="395.50" stroke="#ff00ff" stroke-width="0.7" />
<line x1="121.23" y1="391.80" x2="130.85" y2="403.70" stroke="#ff00ff" stroke-width="0.7" />
<line x1="134.74" y1="403.29" x2="145.63" y2="381.71" stroke="#ff00ff" stroke-width="0.7" />
<line x1="148.34" y1="375.07" x2="160.32" y2="336.93" stroke="#ff00ff" stroke-width="0.7" />
<rect x="59.95" y="329.25" width="4.9" height="4.9" fill="#fff" stroke="#ff00ff" stroke-width="0.9"/>
<rect x="59.95" y="329.25" width="4.9" height="2.75" fill="#ff00ff"/>
<rect x="74.09" y="391.55" width="4.9" height="4.9" fill="#fff" stroke="#ff00ff" stroke-width="0.9"/>
<rect x="74.09" y="391.55" width="4.9" height="2.75" fill="#ff00ff"/>
<rect x="88.24" y="393.55" width="4.9" height="4.9" fill="#fff" stroke="#ff00ff" stroke-width="0.9"/>
<rect x="88.24" y="393.55" width="4.9" height="2.75" fill="#ff00ff"/>
<rect x="116.52" y="386.55" width="4.9" height="4.9" fill="#fff" stroke="#ff00ff" stroke-width="0.9"/>
<rect x="116.52" y="386.55" width="4.9" height="2.75" fill="#ff00ff"/>
<rect x="130.67" y="404.05" width="4.9" height="4.9" fill="#fff" stroke="#ff00ff" stroke-width="0.9"/>
<rect x="130.67" y="404.05" width="4.9" height="2.75" fill="#ff00ff"/>
<rect x="144.81" y="376.05" width="4.9" height="4.9" fill="#fff" stroke="#ff00ff" stroke-width="0.9"/>
<rect x="144.81" y="376.05" width="4.9" height="2.75" fill="#ff00ff"/>
<rect x="158.95" y="331.05" width="4.9" height="4.9" fill="#fff" stroke="#ff00ff" stroke-width="0.9"/>
<rect x="158.95" y="331.05" width="4.9" height="2.75" fill="#ff00ff"/>
<line x1="66.00" y1="331.50" x2="72.94" y2="331.50" stroke="#33a033" stroke-width="0.7" />
<line x1="80.14" y1="331.50" x2="87.09" y2="331.50" stroke="#33a033" stroke-width="0.7" />
<line x1="122.57" y1="331.50" x2="129.52" y2="331.50" stroke="#33a033" stroke-width="0.7" />
<line x1="136.72" y1="331.50" x2="143.66" y2="331.50" stroke="#33a033" stroke-width="0.7" />
<line x1="150.86" y1="331.50" x2="157.80" y2="331.50" stroke="#33a033" stroke-width="0.7" />
<rect x="59.60" y="328.70" width="5.6" height="5.6" fill="#fff" stroke="#33a033" stroke-width="0.9"/>
<rect x="73.74" y="328.70" width="5.6" height="5.6" fill="#fff" stroke="#33a033" stroke-width="0.9"/>
<rect x="87.89" y="328.70" width="5.6" height="5.6" fill="#fff" stroke="#33a033" stroke-width="0.9"/>
<rect x="116.17" y="328.70" width="5.6" height="5.6" fill="#fff" stroke="#33a033" stroke-width="0.9"/>
<rect x="130.31" y="328.70" width="5.6" height="5.6" fill="#fff" stroke="#33a033" stroke-width="0.9"/>
<rect x="144.46" y="328.70" width="5.6" height="5.6" fill="#fff" stroke="#33a033" stroke-width="0.9"/>
<rect x="158.60" y="328.70" width="5.6" height="5.6" fill="#fff" stroke="#33a033" stroke-width="0.9"/>
</g>
<line x1="45.40" y1="321.00" x2="45.40" y2="512.50" stroke="#000" stroke-width="1.0" />
<line x1="44.90" y1="321.50" x2="281.70" y2="321.50" stroke="#000" stroke-width="1.0" />
<line x1="44.90" y1="512.00" x2="281.70" y2="512.00" stroke="#000" stroke-width="1.0" />
<line x1="281.20" y1="321.00" x2="281.20" y2="433.40" stroke="#ff00ff" stroke-width="1.2" />
<line x1="281.20" y1="436.40" x2="281.20" y2="512.50" stroke="#ff00ff" stroke-width="1.2" />
<line x1="277.60" y1="434.80" x2="284.80" y2="431.40" stroke="#ff00ff" stroke-width="1.1" />
<line x1="277.60" y1="438.20" x2="284.80" y2="434.80" stroke="#ff00ff" stroke-width="1.1" />
<line x1="61.00" y1="512.00" x2="61.00" y2="516.00" stroke="#000" stroke-width="1.0" />
<line x1="61.00" y1="321.50" x2="61.00" y2="325.50" stroke="#000" stroke-width="1.0" />
<text x="61.00" y="527.80" font-size="12.6" text-anchor="middle" font-weight="normal" fill="#000" font-family="Liberation Serif, serif" >0</text>
<line x1="76.72" y1="512.00" x2="76.72" y2="514.20" stroke="#000" stroke-width="1.0" />
<line x1="76.72" y1="321.50" x2="76.72" y2="323.70" stroke="#000" stroke-width="1.0" />
<line x1="92.43" y1="512.00" x2="92.43" y2="516.00" stroke="#000" stroke-width="1.0" />
<line x1="92.43" y1="321.50" x2="92.43" y2="325.50" stroke="#000" stroke-width="1.0" />
<text x="92.43" y="527.80" font-size="12.6" text-anchor="middle" font-weight="normal" fill="#000" font-family="Liberation Serif, serif" >20</text>
<line x1="108.14" y1="512.00" x2="108.14" y2="514.20" stroke="#000" stroke-width="1.0" />
<line x1="108.14" y1="321.50" x2="108.14" y2="323.70" stroke="#000" stroke-width="1.0" />
<line x1="123.86" y1="512.00" x2="123.86" y2="516.00" stroke="#000" stroke-width="1.0" />
<line x1="123.86" y1="321.50" x2="123.86" y2="325.50" stroke="#000" stroke-width="1.0" />
<text x="123.86" y="527.80" font-size="12.6" text-anchor="middle" font-weight="normal" fill="#000" font-family="Liberation Serif, serif" >40</text>
<line x1="139.57" y1="512.00" x2="139.57" y2="514.20" stroke="#000" stroke-width="1.0" />
<line x1="139.57" y1="321.50" x2="139.57" y2="323.70" stroke="#000" stroke-width="1.0" />
<line x1="155.29" y1="512.00" x2="155.29" y2="516.00" stroke="#000" stroke-width="1.0" />
<line x1="155.29" y1="321.50" x2="155.29" y2="325.50" stroke="#000" stroke-width="1.0" />
<text x="155.29" y="527.80" font-size="12.6" text-anchor="middle" font-weight="normal" fill="#000" font-family="Liberation Serif, serif" >60</text>
<line x1="171.00" y1="512.00" x2="171.00" y2="514.20" stroke="#000" stroke-width="1.0" />
<line x1="171.00" y1="321.50" x2="171.00" y2="323.70" stroke="#000" stroke-width="1.0" />
<line x1="186.72" y1="512.00" x2="186.72" y2="516.00" stroke="#000" stroke-width="1.0" />
<line x1="186.72" y1="321.50" x2="186.72" y2="325.50" stroke="#000" stroke-width="1.0" />
<text x="186.72" y="527.80" font-size="12.6" text-anchor="middle" font-weight="normal" fill="#000" font-family="Liberation Serif, serif" >80</text>
<line x1="202.44" y1="512.00" x2="202.44" y2="514.20" stroke="#000" stroke-width="1.0" />
<line x1="202.44" y1="321.50" x2="202.44" y2="323.70" stroke="#000" stroke-width="1.0" />
<line x1="218.15" y1="512.00" x2="218.15" y2="516.00" stroke="#000" stroke-width="1.0" />
<line x1="218.15" y1="321.50" x2="218.15" y2="325.50" stroke="#000" stroke-width="1.0" />
<text x="218.15" y="527.80" font-size="12.6" text-anchor="middle" font-weight="normal" fill="#000" font-family="Liberation Serif, serif" >100</text>
<line x1="233.86" y1="512.00" x2="233.86" y2="514.20" stroke="#000" stroke-width="1.0" />
<line x1="233.86" y1="321.50" x2="233.86" y2="323.70" stroke="#000" stroke-width="1.0" />
<line x1="249.58" y1="512.00" x2="249.58" y2="516.00" stroke="#000" stroke-width="1.0" />
<line x1="249.58" y1="321.50" x2="249.58" y2="325.50" stroke="#000" stroke-width="1.0" />
<text x="249.58" y="527.80" font-size="12.6" text-anchor="middle" font-weight="normal" fill="#000" font-family="Liberation Serif, serif" >120</text>
<line x1="265.29" y1="512.00" x2="265.29" y2="514.20" stroke="#000" stroke-width="1.0" />
<line x1="265.29" y1="321.50" x2="265.29" y2="323.70" stroke="#000" stroke-width="1.0" />
<line x1="281.01" y1="512.00" x2="281.01" y2="516.00" stroke="#000" stroke-width="1.0" />
<text x="281.01" y="527.80" font-size="12.6" text-anchor="middle" font-weight="normal" fill="#000" font-family="Liberation Serif, serif" >140</text>
<text x="163.00" y="543.80" font-size="13.4" text-anchor="middle" font-weight="bold" fill="#000" font-family="Liberation Serif, serif" >Operation time (days)</text>
<line x1="41.20" y1="508.25" x2="45.40" y2="508.25" stroke="#000" stroke-width="1.0" />
<text x="38.80" y="512.45" font-size="12.6" text-anchor="end" font-weight="normal" fill="#000" font-family="Liberation Serif, serif" >0</text>
<line x1="43.20" y1="498.91" x2="45.40" y2="498.91" stroke="#000" stroke-width="1.0" />
<line x1="41.20" y1="489.57" x2="45.40" y2="489.57" stroke="#000" stroke-width="1.0" />
<text x="38.80" y="493.77" font-size="12.6" text-anchor="end" font-weight="normal" fill="#000" font-family="Liberation Serif, serif" >5</text>
<line x1="43.20" y1="480.23" x2="45.40" y2="480.23" stroke="#000" stroke-width="1.0" />
<line x1="41.20" y1="470.89" x2="45.40" y2="470.89" stroke="#000" stroke-width="1.0" />
<text x="38.80" y="475.09" font-size="12.6" text-anchor="end" font-weight="normal" fill="#000" font-family="Liberation Serif, serif" >10</text>
<line x1="43.20" y1="461.55" x2="45.40" y2="461.55" stroke="#000" stroke-width="1.0" />
<line x1="41.20" y1="452.21" x2="45.40" y2="452.21" stroke="#000" stroke-width="1.0" />
<text x="38.80" y="456.41" font-size="12.6" text-anchor="end" font-weight="normal" fill="#000" font-family="Liberation Serif, serif" >15</text>
<line x1="43.20" y1="442.87" x2="45.40" y2="442.87" stroke="#000" stroke-width="1.0" />
<line x1="41.20" y1="433.53" x2="45.40" y2="433.53" stroke="#000" stroke-width="1.0" />
<text x="38.80" y="437.73" font-size="12.6" text-anchor="end" font-weight="normal" fill="#000" font-family="Liberation Serif, serif" >20</text>
<line x1="43.20" y1="424.19" x2="45.40" y2="424.19" stroke="#000" stroke-width="1.0" />
<line x1="41.20" y1="414.85" x2="45.40" y2="414.85" stroke="#000" stroke-width="1.0" />
<text x="38.80" y="419.05" font-size="12.6" text-anchor="end" font-weight="normal" fill="#000" font-family="Liberation Serif, serif" >25</text>
<line x1="43.20" y1="405.51" x2="45.40" y2="405.51" stroke="#000" stroke-width="1.0" />
<line x1="41.20" y1="396.17" x2="45.40" y2="396.17" stroke="#000" stroke-width="1.0" />
<text x="38.80" y="400.37" font-size="12.6" text-anchor="end" font-weight="normal" fill="#000" font-family="Liberation Serif, serif" >30</text>
<line x1="43.20" y1="386.83" x2="45.40" y2="386.83" stroke="#000" stroke-width="1.0" />
<line x1="41.20" y1="377.49" x2="45.40" y2="377.49" stroke="#000" stroke-width="1.0" />
<text x="38.80" y="381.69" font-size="12.6" text-anchor="end" font-weight="normal" fill="#000" font-family="Liberation Serif, serif" >35</text>
<line x1="43.20" y1="368.15" x2="45.40" y2="368.15" stroke="#000" stroke-width="1.0" />
<line x1="41.20" y1="358.81" x2="45.40" y2="358.81" stroke="#000" stroke-width="1.0" />
<text x="38.80" y="363.01" font-size="12.6" text-anchor="end" font-weight="normal" fill="#000" font-family="Liberation Serif, serif" >40</text>
<line x1="43.20" y1="349.47" x2="45.40" y2="349.47" stroke="#000" stroke-width="1.0" />
<line x1="41.20" y1="340.13" x2="45.40" y2="340.13" stroke="#000" stroke-width="1.0" />
<text x="38.80" y="344.33" font-size="12.6" text-anchor="end" font-weight="normal" fill="#000" font-family="Liberation Serif, serif" >45</text>
<line x1="43.20" y1="330.79" x2="45.40" y2="330.79" stroke="#000" stroke-width="1.0" />
<line x1="41.20" y1="321.45" x2="45.40" y2="321.45" stroke="#000" stroke-width="1.0" />
<text x="38.80" y="325.65" font-size="12.6" text-anchor="end" font-weight="normal" fill="#000" font-family="Liberation Serif, serif" >50</text>
<line x1="281.20" y1="511.70" x2="285.40" y2="511.70" stroke="#ff00ff" stroke-width="1.0" />
<text x="287.40" y="515.90" font-size="12.6" text-anchor="start" font-weight="normal" fill="#ff00ff" font-family="Liberation Serif, serif" >0.0</text>
<line x1="281.20" y1="504.17" x2="283.40" y2="504.17" stroke="#ff00ff" stroke-width="1.0" />
<line x1="281.20" y1="496.64" x2="285.40" y2="496.64" stroke="#ff00ff" stroke-width="1.0" />
<text x="287.40" y="500.84" font-size="12.6" text-anchor="start" font-weight="normal" fill="#ff00ff" font-family="Liberation Serif, serif" >0.2</text>
<line x1="281.20" y1="489.11" x2="283.40" y2="489.11" stroke="#ff00ff" stroke-width="1.0" />
<line x1="281.20" y1="481.58" x2="285.40" y2="481.58" stroke="#ff00ff" stroke-width="1.0" />
<text x="287.40" y="485.78" font-size="12.6" text-anchor="start" font-weight="normal" fill="#ff00ff" font-family="Liberation Serif, serif" >0.4</text>
<line x1="281.20" y1="474.05" x2="283.40" y2="474.05" stroke="#ff00ff" stroke-width="1.0" />
<line x1="281.20" y1="466.52" x2="285.40" y2="466.52" stroke="#ff00ff" stroke-width="1.0" />
<text x="287.40" y="470.72" font-size="12.6" text-anchor="start" font-weight="normal" fill="#ff00ff" font-family="Liberation Serif, serif" >0.6</text>
<line x1="281.20" y1="458.99" x2="283.40" y2="458.99" stroke="#ff00ff" stroke-width="1.0" />
<line x1="281.20" y1="451.46" x2="285.40" y2="451.46" stroke="#ff00ff" stroke-width="1.0" />
<text x="287.40" y="455.66" font-size="12.6" text-anchor="start" font-weight="normal" fill="#ff00ff" font-family="Liberation Serif, serif" >0.8</text>
<line x1="281.20" y1="443.93" x2="283.40" y2="443.93" stroke="#ff00ff" stroke-width="1.0" />
<line x1="281.20" y1="424.01" x2="283.40" y2="424.01" stroke="#ff00ff" stroke-width="1.0" />
<line x1="281.20" y1="413.72" x2="285.40" y2="413.72" stroke="#ff00ff" stroke-width="1.0" />
<text x="287.40" y="417.92" font-size="12.6" text-anchor="start" font-weight="normal" fill="#ff00ff" font-family="Liberation Serif, serif" >20</text>
<line x1="281.20" y1="403.43" x2="283.40" y2="403.43" stroke="#ff00ff" stroke-width="1.0" />
<line x1="281.20" y1="393.14" x2="285.40" y2="393.14" stroke="#ff00ff" stroke-width="1.0" />
<text x="287.40" y="397.34" font-size="12.6" text-anchor="start" font-weight="normal" fill="#ff00ff" font-family="Liberation Serif, serif" >40</text>
<line x1="281.20" y1="382.85" x2="283.40" y2="382.85" stroke="#ff00ff" stroke-width="1.0" />
<line x1="281.20" y1="372.56" x2="285.40" y2="372.56" stroke="#ff00ff" stroke-width="1.0" />
<text x="287.40" y="376.76" font-size="12.6" text-anchor="start" font-weight="normal" fill="#ff00ff" font-family="Liberation Serif, serif" >60</text>
<line x1="281.20" y1="362.27" x2="283.40" y2="362.27" stroke="#ff00ff" stroke-width="1.0" />
<line x1="281.20" y1="351.98" x2="285.40" y2="351.98" stroke="#ff00ff" stroke-width="1.0" />
<text x="287.40" y="356.18" font-size="12.6" text-anchor="start" font-weight="normal" fill="#ff00ff" font-family="Liberation Serif, serif" >80</text>
<line x1="281.20" y1="341.69" x2="283.40" y2="341.69" stroke="#ff00ff" stroke-width="1.0" />
<line x1="281.20" y1="331.40" x2="285.40" y2="331.40" stroke="#ff00ff" stroke-width="1.0" />
<text x="287.40" y="335.60" font-size="12.6" text-anchor="start" font-weight="normal" fill="#ff00ff" font-family="Liberation Serif, serif" >100</text>
<text transform="translate(21.00,415.50) rotate(-90)" font-size="13.6" text-anchor="middle" font-weight="bold" fill="#000" font-family="Liberation Serif, serif">TMP concentration (ng L<tspan font-size="8.6" dy="-5">-1</tspan><tspan dy="5">)</tspan></text>
<text transform="translate(320.60,414.00) rotate(-90)" font-size="13.6" text-anchor="middle" font-weight="bold" fill="#0404f2" font-family="Liberation Serif, serif">Removal rate (%)</text>
<text x="9.60" y="298.80" font-size="13.3" text-anchor="start" font-weight="bold" fill="#000" font-family="Liberation Serif, serif" >(i)</text>
<line x1="49.30" y1="287.70" x2="57.40" y2="287.70" stroke="#000" stroke-width="0.8" />
<line x1="65.00" y1="287.70" x2="72.60" y2="287.70" stroke="#000" stroke-width="0.8" />
<rect x="58.40" y="284.90" width="5.6" height="5.6" fill="#000"/>
<text x="76.70" y="291.30" font-size="10.6" text-anchor="start" font-weight="normal" fill="#000" font-family="Liberation Serif, serif" >Raw water</text>
<line x1="49.30" y1="301.25" x2="57.40" y2="301.25" stroke="#ff0000" stroke-width="0.8" />
<line x1="65.00" y1="301.25" x2="72.60" y2="301.25" stroke="#ff0000" stroke-width="0.8" />
<circle cx="61.20" cy="301.25" r="2.9" fill="#fff" stroke="#ff0000" stroke-width="1.0"/>
<path d="M57.80 301.45 A3.4 3.4 0 0 1 64.60 301.45 Z" fill="#ff0000"/>
<text x="76.70" y="304.85" font-size="10.6" text-anchor="start" font-weight="normal" fill="#000" font-family="Liberation Serif, serif" >BAC effluent</text>
<line x1="49.30" y1="314.60" x2="57.40" y2="314.60" stroke="#0000ff" stroke-width="0.8" />
<line x1="65.00" y1="314.60" x2="72.60" y2="314.60" stroke="#0000ff" stroke-width="0.8" />
<path d="M61.20 311.20 L64.70 317.40 L57.70 317.40 Z" fill="#fff" stroke="#0000ff" stroke-width="1.0" stroke-linejoin="miter"/>
<text x="76.70" y="318.20" font-size="10.6" text-anchor="start" font-weight="normal" fill="#000" font-family="Liberation Serif, serif" >BAC/UF permeate</text>
<line x1="174.40" y1="300.65" x2="183.00" y2="300.65" stroke="#ff00ff" stroke-width="0.8" />
<line x1="190.60" y1="300.65" x2="198.60" y2="300.65" stroke="#ff00ff" stroke-width="0.8" />
<rect x="184.35" y="298.20" width="4.9" height="4.9" fill="#fff" stroke="#ff00ff" stroke-width="0.9"/>
<rect x="184.35" y="298.20" width="4.9" height="2.75" fill="#ff00ff"/>
<text x="202.20" y="304.25" font-size="10.6" text-anchor="start" font-weight="normal" fill="#000" font-family="Liberation Serif, serif" >BAC</text>
<line x1="172.80" y1="314.00" x2="181.40" y2="314.00" stroke="#33a033" stroke-width="0.8" />
<line x1="189.00" y1="314.00" x2="197.00" y2="314.00" stroke="#33a033" stroke-width="0.8" />
<rect x="182.40" y="311.20" width="5.6" height="5.6" fill="#fff" stroke="#33a033" stroke-width="0.9"/>
<text x="200.60" y="317.60" font-size="10.6" text-anchor="start" font-weight="normal" fill="#000" font-family="Liberation Serif, serif" >BAC/UF</text>
<text transform="translate(109.30,414.20) rotate(-90)" font-size="11.4" text-anchor="middle" font-weight="normal" fill="#000" font-family="Liberation Serif, serif">&lt; LOD</text>
<text transform="translate(220.80,414.50) rotate(-90)" font-size="11.4" text-anchor="middle" font-weight="normal" fill="#000" font-family="Liberation Serif, serif">&lt; LOD</text>
</svg>
</body></html>
